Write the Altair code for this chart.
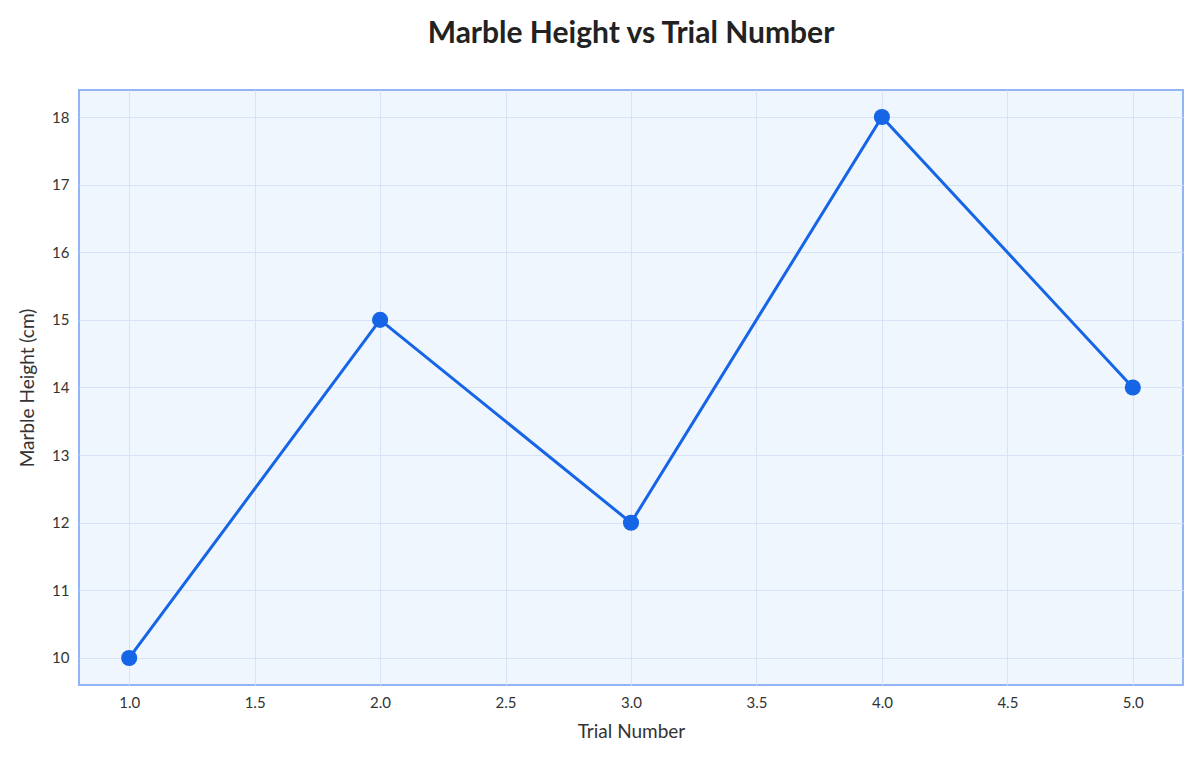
import altair as alt
import pandas as pd

trials = [1, 2, 3, 4, 5]
heights = [10, 15, 12, 18, 14]

df = pd.DataFrame({"trial": trials, "height": heights})

blue = "#1565e6"
font = "Lato"

x = alt.X(
    "trial:Q",
    title="Trial Number",
    scale=alt.Scale(domain=[0.8, 5.2], nice=False, zero=False),
    axis=alt.Axis(values=[1.0, 1.5, 2.0, 2.5, 3.0, 3.5, 4.0, 4.5, 5.0], format=".1f"),
)
y = alt.Y(
    "height:Q",
    title="Marble Height (cm)",
    scale=alt.Scale(domain=[9.6, 18.4], nice=False, zero=False),
    axis=alt.Axis(values=list(range(10, 19)), format="d"),
)

base = alt.Chart(df).encode(x=x, y=y)
line = base.mark_line(color=blue, strokeWidth=3)
pts = base.mark_circle(color=blue, size=260, opacity=1)

chart = (
    (line + pts)
    .properties(
        width=1104,
        height=595,
        autosize=alt.AutoSizeParams(type="none"),
        padding={"left": 71, "top": 82, "right": 9, "bottom": 68},
        title=alt.TitleParams(
            "Marble Height vs Trial Number",
            fontSize=30,
            fontWeight="bold",
            font=font,
            color="#222222",
            offset=41,
        ),
    )
    .configure_view(fill="#f0f6fe", stroke="#93b5f5", strokeWidth=2)
    .configure_axis(
        labelFont=font,
        titleFont=font,
        labelFontSize=15,
        titleFontSize=19,
        titleFontWeight="normal",
        labelColor="#333333",
        titleColor="#333333",
        grid=True,
        gridColor="#d9e3f8",
        gridWidth=1,
        domain=False,
        ticks=False,
        labelPadding=10,
    )
    .configure_axisX(titlePadding=12)
    .configure_axisY(titlePadding=14)
)

chart.save("out.html", embed_options={"renderer": "svg", "actions": False})
